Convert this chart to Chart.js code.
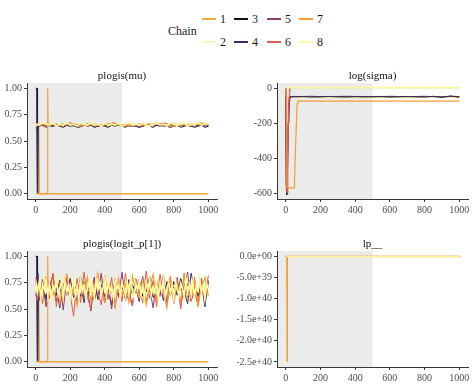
<!DOCTYPE html>
<html>
<head>
<meta charset="utf-8">
<script src="https://cdn.jsdelivr.net/npm/chart.js@4/dist/chart.umd.min.js"></script>
<style>
    body { margin: 0; width: 474px; height: 387px; background: #fff; position: relative; overflow: hidden; font-family: "Liberation Serif", serif; }
    canvas { position: absolute; }
    .lg { position: absolute; font-size: 12px; line-height: 12px; color: #1a1a1a; }
    .key { position: absolute; width: 14px; height: 1.5px; }
</style>
</head>
<body>
<div id="legend"></div>
<canvas id="p-mu" width="222" height="153" style="left:0px;top:68px"></canvas>
<canvas id="p-sigma" width="237" height="153" style="left:237px;top:68px"></canvas>
<canvas id="p-logitp" width="222" height="153" style="left:0px;top:236px"></canvas>
<canvas id="p-lp" width="237" height="153" style="left:237px;top:236px"></canvas>
<script>
// --- DATA ---
const CHAINS = [1, 2, 3, 4, 5, 6, 7, 8];
const X_TICKS = [0, 200, 400, 600, 800, 1000];
const WARMUP = 500;

const ITER10 = [10, 20, 30, 40, 50, 60, 70, 80, 90, 100, 110, 120, 130, 140, 150, 160, 170, 180, 190, 200,
    210, 220, 230, 240, 250, 260, 270, 280, 290, 300, 310, 320, 330, 340, 350, 360, 370, 380, 390, 400,
    410, 420, 430, 440, 450, 460, 470, 480, 490, 500, 510, 520, 530, 540, 550, 560, 570, 580, 590, 600,
    610, 620, 630, 640, 650, 660, 670, 680, 690, 700, 710, 720, 730, 740, 750, 760, 770, 780, 790, 800,
    810, 820, 830, 840, 850, 860, 870, 880, 890, 900, 910, 920, 930, 940, 950, 960, 970, 980, 990, 1000];
const ITER20 = [20, 40, 60, 80, 100, 120, 140, 160, 180, 200, 220, 240, 260, 280, 300, 320, 340, 360, 380, 400,
    420, 440, 460, 480, 500, 520, 540, 560, 580, 600, 620, 640, 660, 680, 700, 720, 740, 760, 780, 800,
    820, 840, 860, 880, 900, 920, 940, 960, 980, 1000];
const ITER50 = [50, 100, 150, 200, 250, 300, 350, 400, 450, 500, 550, 600, 650, 700, 750, 800, 850, 900, 950, 1000];

// plogis(mu)
const MU_TICKS = [0, 0.25, 0.5, 0.75, 1];
const mu_it = [
    [1, 10, 18, 22, 1000],
    [1, 10].concat(ITER20),
    [1, 8, 11, 14].concat(ITER20),
    [1, 6, 9, 13].concat(ITER50),
    [1, 10].concat(ITER50),
    [1, 10].concat(ITER50),
    [1, 68, 70, 72].concat(ITER50.slice(1)),
    [1, 10].concat(ITER20)
];
const mu_val = [
    [0.66, 0.64, 0.65, 0.00, 0.00],
    [0.70, 0.66, 0.66, 0.65, 0.67, 0.64, 0.66, 0.65, 0.67, 0.66, 0.64, 0.66, 0.65, 0.67, 0.66, 0.65, 0.64, 0.66, 0.67, 0.65, 0.66, 0.64,
        0.66, 0.65, 0.67, 0.66, 0.65, 0.66, 0.64, 0.67, 0.65, 0.66, 0.65, 0.67, 0.66, 0.64, 0.66, 0.65, 0.67, 0.66, 0.65, 0.64,
        0.66, 0.67, 0.65, 0.66, 0.64, 0.66, 0.65, 0.67, 0.66, 0.65],
    [1.00, 1.00, 0.00, 0.64, 0.64, 0.65, 0.63, 0.65, 0.64, 0.66, 0.64, 0.63, 0.65, 0.64, 0.65, 0.63, 0.64, 0.66, 0.64, 0.65, 0.63, 0.64, 0.65, 0.64,
        0.63, 0.65, 0.64, 0.66, 0.64, 0.63, 0.65, 0.64, 0.65, 0.63, 0.64, 0.65, 0.64, 0.63, 0.65, 0.64, 0.66, 0.64, 0.63, 0.64,
        0.65, 0.63, 0.64, 0.65, 0.64, 0.63, 0.64, 0.65, 0.63, 0.64],
    [0.99, 1.00, 0.01, 0.66, 0.65, 0.64, 0.66, 0.65, 0.63, 0.66, 0.64, 0.65, 0.66, 0.64, 0.65, 0.63, 0.66, 0.65, 0.64, 0.66, 0.65, 0.64, 0.65, 0.64],
    [0.62, 0.65, 0.66, 0.65, 0.64, 0.67, 0.65, 0.66, 0.64, 0.65, 0.67, 0.65, 0.64, 0.66, 0.65, 0.67, 0.64, 0.65, 0.66, 0.64, 0.66, 0.65],
    [0.68, 0.66, 0.64, 0.66, 0.65, 0.67, 0.64, 0.65, 0.66, 0.64, 0.67, 0.65, 0.66, 0.64, 0.65, 0.66, 0.67, 0.64, 0.65, 0.66, 0.65, 0.66],
    [0.00, 0.00, 1.00, 0.66, 0.66, 0.65, 0.67, 0.64, 0.66, 0.65, 0.66, 0.67, 0.64, 0.65, 0.66, 0.65, 0.67, 0.65, 0.64, 0.66, 0.65, 0.67, 0.66],
    [0.64, 0.66, 0.65, 0.67, 0.66, 0.65, 0.67, 0.64, 0.66, 0.65, 0.67, 0.65, 0.66, 0.64, 0.67, 0.66, 0.65, 0.67, 0.65, 0.66, 0.64, 0.67,
        0.65, 0.66, 0.65, 0.67, 0.64, 0.66, 0.67, 0.65, 0.66, 0.65, 0.67, 0.65, 0.64, 0.66, 0.67, 0.65, 0.66, 0.64, 0.67, 0.66,
        0.65, 0.66, 0.67, 0.64, 0.66, 0.65, 0.67, 0.65, 0.66, 0.67]
];

// log(sigma)
const SIGMA_TICKS = [-600, -400, -200, 0];
const sigma_it = [
    [1, 4, 8, 12, 16, 20, 1000],
    [1, 5, 10, 15, 22, 1000],
    [1, 3, 6, 10, 14, 18, 24, 30].concat(ITER50),
    [1, 3, 5, 9, 14, 20, 26].concat(ITER50),
    [1, 4, 7, 11, 18, 25, 1000],
    [1, 4, 8, 12, 18, 24, 1000],
    [1, 3, 6, 8, 50, 58, 66, 70, 1000],
    [1, 1000]
];
const sigma_val = [
    [0, -580, -600, -420, -150, -52, -52],
    [0, -500, -590, -200, -50, -50],
    [0, -300, -610, -360, -200, -120, -60, -50,
        -50, -49, -51, -50, -48, -50, -51, -49, -50, -50, -49, -51, -50, -48, -50, -51, -47, -53, -46, -52],
    [0, -520, -605, -590, -260, -80, -48,
        -48, -48, -47, -49, -48, -48, -47, -48, -49, -48, -48, -47, -48, -49, -48, -47, -49, -50, -46, -49],
    [0, -560, -598, -450, -100, 3, 3],
    [0, -540, -595, -380, -90, 3, 3],
    [0, -45, -50, -570, -570, -300, -90, -75, -75],
    [3, 3]
];

// plogis(logit_p[1])
const P_TICKS = [0, 0.25, 0.5, 0.75, 1];
const p_it = [
    [1, 10, 18, 22, 1000],
    [1, 5].concat(ITER10),
    [1, 8, 11, 14].concat(ITER20),
    [1, 6, 9, 13].concat(ITER20),
    [1, 10].concat(ITER20),
    [1, 10].concat(ITER20),
    [1, 68, 70, 72].concat(ITER20.slice(4)),
    [1, 5].concat(ITER10)
];
const p_val = [
    [0.70, 0.62, 0.68, 0.00, 0.00],
    [0.72, 0.66,
        0.70, 0.63, 0.76, 0.66, 0.79, 0.61, 0.73, 0.68, 0.77, 0.62, 0.74, 0.60, 0.71, 0.78, 0.65, 0.73, 0.61, 0.69, 0.77, 0.64,
        0.75, 0.62, 0.70, 0.79, 0.66, 0.72, 0.60, 0.76, 0.68, 0.74, 0.63, 0.78, 0.67, 0.71, 0.61, 0.75, 0.69, 0.64, 0.77, 0.66,
        0.73, 0.60, 0.70, 0.78, 0.65, 0.72, 0.62, 0.76, 0.68, 0.71, 0.64, 0.77, 0.61, 0.74, 0.67, 0.79, 0.63, 0.70, 0.75, 0.60,
        0.72, 0.66, 0.78, 0.62, 0.69, 0.76, 0.64, 0.73, 0.59, 0.71, 0.77, 0.65, 0.70, 0.62, 0.75, 0.68, 0.79, 0.63, 0.72, 0.66,
        0.60, 0.74, 0.69, 0.77, 0.64, 0.71, 0.61, 0.76, 0.67, 0.73, 0.62, 0.78, 0.66, 0.70, 0.75, 0.63, 0.72, 0.68, 0.77, 0.65],
    [1.00, 1.00, 0.00, 0.55, 0.66, 0.70, 0.61, 0.74, 0.68, 0.63, 0.77, 0.65, 0.71, 0.60, 0.73, 0.67, 0.62, 0.76, 0.64, 0.70, 0.58, 0.72, 0.66, 0.75,
        0.61, 0.69, 0.74, 0.63, 0.70, 0.67, 0.59, 0.73, 0.65, 0.78, 0.62, 0.71, 0.66, 0.75, 0.60, 0.70, 0.68, 0.73, 0.63, 0.76,
        0.65, 0.70, 0.61, 0.74, 0.67, 0.72, 0.64, 0.69, 0.62, 0.71],
    [1.00, 0.99, 0.01, 0.84, 0.64, 0.72, 0.58, 0.77, 0.66, 0.70, 0.51, 0.74, 0.63, 0.79, 0.61, 0.68, 0.75, 0.56, 0.71, 0.65, 0.80, 0.59, 0.73, 0.62,
        0.69, 0.54, 0.76, 0.67, 0.72, 0.60, 0.78, 0.64, 0.70, 0.57, 0.74, 0.66, 0.81, 0.61, 0.69, 0.73, 0.58, 0.76, 0.65, 0.71,
        0.63, 0.79, 0.67, 0.55, 0.84, 0.70, 0.62, 0.75, 0.52, 0.77],
    [0.62, 0.75, 0.58, 0.78, 0.52, 0.70, 0.83, 0.57, 0.74, 0.49, 0.80, 0.62, 0.75, 0.55, 0.82, 0.60, 0.69, 0.48, 0.77, 0.63, 0.84, 0.56,
        0.72, 0.50, 0.79, 0.61, 0.85, 0.58, 0.68, 0.53, 0.76, 0.64, 0.81, 0.57, 0.70, 0.51, 0.78, 0.62, 0.83, 0.55, 0.73, 0.60,
        0.80, 0.52, 0.71, 0.85, 0.58, 0.66, 0.54, 0.79, 0.61, 0.75],
    [0.80, 0.58, 0.72, 0.55, 0.81, 0.60, 0.84, 0.52, 0.76, 0.58, 0.83, 0.64, 0.43, 0.79, 0.56, 0.85, 0.61, 0.50, 0.78, 0.66, 0.54, 0.82,
        0.59, 0.80, 0.51, 0.74, 0.57, 0.84, 0.62, 0.53, 0.79, 0.68, 0.56, 0.86, 0.60, 0.77, 0.52, 0.83, 0.64, 0.58, 0.81, 0.55,
        0.78, 0.50, 0.84, 0.61, 0.57, 0.80, 0.53, 0.76, 0.59, 0.82],
    [0.00, 0.00, 1.00, 0.70, 0.63, 0.78, 0.55, 0.72, 0.82, 0.60, 0.69, 0.53, 0.76, 0.65, 0.80, 0.58, 0.71, 0.84, 0.62, 0.57, 0.75, 0.67,
        0.52, 0.79, 0.64, 0.73, 0.56, 0.81, 0.68, 0.61, 0.77, 0.54, 0.70, 0.83, 0.59, 0.74, 0.66, 0.51, 0.78, 0.63, 0.72, 0.57,
        0.82, 0.65, 0.60, 0.76, 0.53, 0.71, 0.80, 0.62],
    [0.66, 0.72,
        0.66, 0.75, 0.61, 0.73, 0.68, 0.78, 0.63, 0.74, 0.60, 0.71, 0.67, 0.79, 0.64, 0.70, 0.76, 0.62, 0.75, 0.66, 0.72, 0.59,
        0.69, 0.77, 0.64, 0.71, 0.61, 0.78, 0.67, 0.73, 0.62, 0.70, 0.76, 0.65, 0.72, 0.60, 0.77, 0.68, 0.74, 0.63, 0.70, 0.79,
        0.64, 0.75, 0.66, 0.71, 0.61, 0.77, 0.69, 0.73, 0.63, 0.74, 0.70, 0.62, 0.76, 0.65, 0.79, 0.67, 0.61, 0.74, 0.68, 0.77,
        0.63, 0.72, 0.60, 0.75, 0.69, 0.78, 0.64, 0.71, 0.66, 0.76, 0.61, 0.73, 0.67, 0.79, 0.62, 0.70, 0.75, 0.65, 0.72, 0.60,
        0.77, 0.68, 0.63, 0.74, 0.70, 0.61, 0.78, 0.66, 0.73, 0.64, 0.76, 0.62, 0.71, 0.67, 0.79, 0.65, 0.72, 0.60, 0.74, 0.69]
];

// lp__
const LP_TICKS = [-2.5e40, -2.0e40, -1.5e40, -1.0e40, -5.0e39, 0];
const lp_it = [[1, 1000], [1, 1000], [1, 1000], [1, 1000], [1, 1000], [1, 1000], [1, 6, 8, 10, 1000], [1, 1000]];
const lp_val = [[0, 0], [0, 0], [0, 0], [0, 0], [0, 0], [0, 0], [0, 0, -2.48e40, 0, 0], [0, 0]];

// --- STYLE ---
const COLORI = ['#F2A835', '#FBF3B8', '#111114', '#3E2C63', '#8F3F6E', '#DD6152', '#F59D35', '#FDF79E'];
const SPESSORI = [1.3, 1.7, 1, 1, 1, 1, 1.2, 1.7];
const AXIS = '#3a3a3a';
const TICK_TXT = '#4D4D4D';
const FONT = '"Liberation Serif", "Times New Roman", serif';
Chart.defaults.font.family = FONT;

// --- LEGEND ---
const legend = document.getElementById('legend');
legend.innerHTML = '<div class="lg" style="left:168px;top:25px">Chain</div>';
const KEY_X = [202, 234, 267, 299];
const ROW_Y = [19, 42];
CHAINS.forEach((c, i) => {
    const col = Math.floor(i / 2), row = i % 2;
    legend.innerHTML += `<div class="key" style="left:${KEY_X[col]}px;top:${ROW_Y[row] - 1}px;background:${COLORI[i]}"></div>`
        + `<div class="lg" style="left:${KEY_X[col] + 18}px;top:${ROW_Y[row] - 6}px">${c}</div>`;
});

// --- PLUGINS ---
const warmupPlugin = {
    id: 'warmup',
    beforeDraw(chart) {
        const { ctx, chartArea: a, scales: { x } } = chart;
        ctx.save();
        ctx.fillStyle = '#EBEBEB';
        ctx.fillRect(a.left, a.top, x.getPixelForValue(WARMUP) - a.left, a.bottom - a.top);
        ctx.restore();
    }
};
const titlePlugin = {
    id: 'ptitle',
    afterDraw(chart) {
        const { ctx, chartArea: a } = chart;
        ctx.save();
        ctx.font = '11px ' + FONT;
        ctx.fillStyle = '#111';
        ctx.textAlign = 'center';
        ctx.textBaseline = 'middle';
        ctx.fillText(chart.options.plugins.ptitle.text, (a.left + a.right) / 2, a.top - 7);
        ctx.restore();
    }
};

function fmtExp(v) {
    if (v === 0) return '0.0e+00';
    return v.toExponential(1);
}

function creaPannello(id, titolo, its, vals, yMin, yMax, yTicks, fmt, yWidth, padRight) {
    const datasets = CHAINS.map((c, i) => ({
        label: 'Chain ' + c,
        data: its[i].map((it, j) => ({ x: it, y: vals[i][j] })),
        borderColor: COLORI[i],
        borderWidth: SPESSORI[i],
        pointRadius: 0,
        tension: 0,
        fill: false,
        order: 9 - c
    }));
    return new Chart(document.getElementById(id), {
        type: 'line',
        data: { datasets },
        plugins: [warmupPlugin, titlePlugin],
        options: {
            responsive: false,
            animation: false,
            devicePixelRatio: 1,
            layout: { autoPadding: false, padding: { top: 15, right: padRight, bottom: 0, left: 0 } },
            plugins: { legend: { display: false }, tooltip: { enabled: false }, ptitle: { text: titolo } },
            scales: {
                x: {
                    type: 'linear', min: -50, max: 1050,
                    afterBuildTicks: s => { s.ticks = X_TICKS.map(v => ({ value: v })); },
                    afterFit: s => { s.height = 22; },
                    grid: { drawOnChartArea: false, tickLength: 3, color: AXIS },
                    border: { color: AXIS, width: 1 },
                    ticks: { color: TICK_TXT, font: { family: FONT, size: 10 }, padding: 2, maxRotation: 0, callback: v => String(v) }
                },
                y: {
                    type: 'linear', min: yMin, max: yMax,
                    afterBuildTicks: s => { s.ticks = yTicks.map(v => ({ value: v })); },
                    afterFit: s => { s.width = yWidth; },
                    grid: { drawOnChartArea: false, tickLength: 3, color: AXIS },
                    border: { color: AXIS, width: 1 },
                    ticks: { color: TICK_TXT, font: { family: FONT, size: 10 }, padding: 2, callback: fmt }
                }
            }
        }
    });
}

creaPannello('p-mu', 'plogis(mu)', mu_it, mu_val, -0.05, 1.05, MU_TICKS, v => v.toFixed(2), 27, 5);
creaPannello('p-sigma', 'log(sigma)', sigma_it, sigma_val, -634, 29, SIGMA_TICKS, v => String(v), 40, 6);
creaPannello('p-logitp', 'plogis(logit_p[1])', p_it, p_val, -0.05, 1.05, P_TICKS, v => v.toFixed(2), 27, 5);
creaPannello('p-lp', 'lp__', lp_it, lp_val, -2.62e40, 0.13e40, LP_TICKS, fmtExp, 40, 6);
</script>
</body>
</html>
